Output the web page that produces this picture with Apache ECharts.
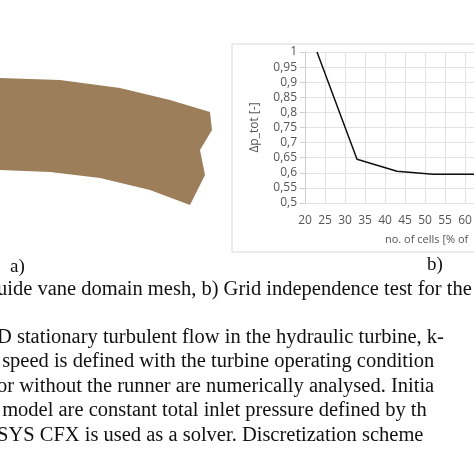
<!DOCTYPE html><html><head><meta charset="utf-8"><script src="https://cdn.jsdelivr.net/npm/echarts@6/dist/echarts.min.js"></script>
<style>html,body{margin:0;width:474px;height:474px;overflow:hidden;background:#fff}#c{position:absolute;left:0;top:0;width:700px;height:474px}</style></head><body><div id="c"></div><script>
const cells=[23,33,43,52,60,70,80,90,100];
const dp=[1,0.645,0.605,0.595,0.595,0.595,0.595,0.595,0.595];
const yTicks=['0,5','0,55','0,6','0,65','0,7','0,75','0,8','0,85','0,9','0,95','1'];
const captionLines=[
 'uide vane domain mesh, b) Grid independence test for the',
 'D stationary turbulent flow in the hydraulic turbine, k-',
 ' speed is defined with the turbine operating condition',
 'or without the runner are numerically analysed. Initia',
 ' model are constant total inlet pressure defined by th',
 'SYS CFX is used as a solver. Discretization scheme'];
const capY=[290,338,362,387,411,436];
const ch=echarts.init(document.getElementById('c'));
const serif='Liberation Serif';
const g=[
 {type:'rect',shape:{x:232,y:44,width:480,height:208},style:{fill:'none',stroke:'#d9d9d9',lineWidth:1},z:-1},
 {type:'polygon',shape:{points:[[0,78],[60,80],[120,88],[170,100],[210,112],[212,130],[200,150],[205,175],[190,205],[150,190],[100,178],[50,172],[0,170]]},style:{fill:'#9c7f5a'},z:-2},
 {type:'text',x:10,y:258,style:{text:'a)',font:'19px '+serif,fill:'#111'}},
 {type:'text',x:427,y:256,style:{text:'b)',font:'19px '+serif,fill:'#111'}},
 {type:'text',x:385,y:234,style:{text:'no. of cells [% of',font:'11px Open Sans',fill:'#555'}}
];
captionLines.forEach((t,i)=>g.push({type:'text',x:-3,y:capY[i]-11,style:{text:t,font:'20.5px '+serif,fill:'#111'}}));
ch.setOption({animation:false,graphic:g,
 grid:{left:305,top:52,width:320,height:151},
 xAxis:{type:'value',min:20,max:100,interval:5,axisLine:{show:false},axisTick:{show:false},
  splitLine:{lineStyle:{color:'#e3e3e3'}},axisLabel:{color:'#555',fontSize:12,fontFamily:'Open Sans',margin:12}},
 yAxis:{type:'value',min:0.5,max:1,interval:0.05,axisLine:{show:true,lineStyle:{color:'#d0d0d0'}},
  splitLine:{lineStyle:{color:'#e3e3e3'}},
  axisLabel:{color:'#555',fontSize:12,fontFamily:'Open Sans',formatter:v=>yTicks[Math.round((v-0.5)/0.05)]},
  name:'Δp_tot [-]',nameLocation:'middle',nameGap:44,nameTextStyle:{color:'#555',fontSize:12,fontFamily:'Open Sans'}},
 series:[{type:'line',data:cells.map((x,i)=>[x,dp[i]]),symbol:'none',lineStyle:{color:'#111',width:1.5}}]
});
</script></body></html>
